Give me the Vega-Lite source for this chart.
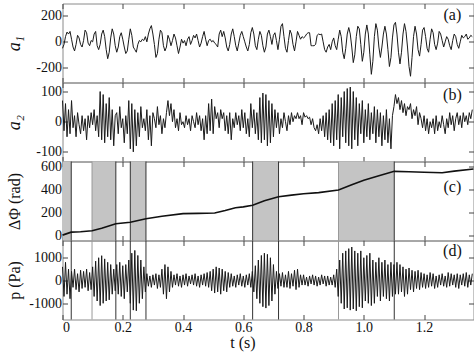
{
"$schema": "https://vega.github.io/schema/vega-lite/v6.json",
"padding": {"left": 4.5, "top": 2.5, "right": 2, "bottom": 0},
"spacing": 0,
"bounds": "flush",
"background": "white",
"config": {
 "view": {"stroke": "#8a8a8a", "strokeWidth": 1},
 "font": "'Liberation Serif', 'Times New Roman', serif",
 "axis": {"domain": false, "grid": false, "labelFont": "'Liberation Serif', 'Times New Roman', serif", "labelFontSize": 14, "labelColor": "#111", "titleFont": "'Liberation Serif', 'Times New Roman', serif", "titleFontSize": 16, "titleFontWeight": "normal", "titleColor": "#111", "tickColor": "#444", "tickSize": -5, "labelPadding": 6},
 "text": {"font": "'Liberation Serif', 'Times New Roman', serif"}
},
"datasets": {
 "sig": [
{"t":0,"a":-50,"b":70,"p":600},
{"t":0.005,"a":-20,"b":-30,"p":-700},
{"t":0.01,"a":40,"b":60,"p":800},
{"t":0.015,"a":75,"b":-50,"p":-600},
{"t":0.02,"a":60,"b":40,"p":500},
{"t":0.025,"a":80,"b":-40,"p":-800},
{"t":0.03,"a":20,"b":70,"p":400},
{"t":0.035,"a":-40,"b":-20,"p":-300},
{"t":0.04,"a":-70,"b":20,"p":500},
{"t":0.045,"a":-20,"b":-50,"p":-400},
{"t":0.05,"a":50,"b":30,"p":300},
{"t":0.055,"a":30,"b":-10,"p":-500},
{"t":0.06,"a":-20,"b":-40,"p":450},
{"t":0.065,"a":-40,"b":20,"p":-350},
{"t":0.07,"a":10,"b":-30,"p":400},
{"t":0.075,"a":90,"b":10,"p":-300},
{"t":0.08,"a":70,"b":-60,"p":500},
{"t":0.085,"a":-10,"b":20,"p":-450},
{"t":0.09,"a":-30,"b":-20,"p":350},
{"t":0.095,"a":10,"b":30,"p":-400},
{"t":0.1,"a":0,"b":-10,"p":600},
{"t":0.105,"a":60,"b":40,"p":-700},
{"t":0.11,"a":80,"b":-30,"p":850},
{"t":0.115,"a":-30,"b":20,"p":-900},
{"t":0.12,"a":-60,"b":-50,"p":1000},
{"t":0.125,"a":-20,"b":100,"p":-1100},
{"t":0.13,"a":60,"b":-60,"p":1090},
{"t":0.135,"a":90,"b":90,"p":-1000},
{"t":0.14,"a":40,"b":-70,"p":950},
{"t":0.145,"a":-60,"b":60,"p":-900},
{"t":0.15,"a":-130,"b":-50,"p":800},
{"t":0.155,"a":-80,"b":80,"p":-850},
{"t":0.16,"a":30,"b":-60,"p":700},
{"t":0.165,"a":100,"b":40,"p":-600},
{"t":0.17,"a":60,"b":-80,"p":500},
{"t":0.175,"a":-30,"b":20,"p":-450},
{"t":0.18,"a":-80,"b":30,"p":700},
{"t":0.185,"a":-40,"b":-40,"p":-600},
{"t":0.19,"a":40,"b":50,"p":800},
{"t":0.195,"a":70,"b":-20,"p":-700},
{"t":0.2,"a":20,"b":10,"p":650},
{"t":0.205,"a":-40,"b":-70,"p":-800},
{"t":0.21,"a":-90,"b":20,"p":700},
{"t":0.215,"a":-70,"b":-40,"p":-500},
{"t":0.22,"a":20,"b":70,"p":900},
{"t":0.225,"a":100,"b":-90,"p":-1000},
{"t":0.23,"a":50,"b":60,"p":1200},
{"t":0.235,"a":-40,"b":-100,"p":-1300},
{"t":0.24,"a":-60,"b":40,"p":1320},
{"t":0.245,"a":-80,"b":-80,"p":-1330},
{"t":0.25,"a":-20,"b":30,"p":1100},
{"t":0.255,"a":10,"b":-50,"p":-1000},
{"t":0.26,"a":0,"b":50,"p":900},
{"t":0.265,"a":20,"b":-20,"p":-800},
{"t":0.27,"a":10,"b":10,"p":600},
{"t":0.275,"a":40,"b":-30,"p":-500},
{"t":0.28,"a":0,"b":40,"p":300},
{"t":0.285,"a":60,"b":-60,"p":-250},
{"t":0.29,"a":100,"b":20,"p":200},
{"t":0.295,"a":125,"b":-80,"p":-300},
{"t":0.3,"a":60,"b":30,"p":250},
{"t":0.305,"a":-20,"b":10,"p":-200},
{"t":0.31,"a":-120,"b":-20,"p":300},
{"t":0.315,"a":-90,"b":50,"p":-350},
{"t":0.32,"a":20,"b":-10,"p":250},
{"t":0.325,"a":90,"b":20,"p":-300},
{"t":0.33,"a":70,"b":-40,"p":500},
{"t":0.335,"a":-30,"b":10,"p":-600},
{"t":0.34,"a":-70,"b":-20,"p":700},
{"t":0.345,"a":-40,"b":30,"p":-800},
{"t":0.35,"a":50,"b":70,"p":600},
{"t":0.355,"a":20,"b":20,"p":-500},
{"t":0.36,"a":-30,"b":60,"p":400},
{"t":0.365,"a":10,"b":0,"p":-300},
{"t":0.37,"a":60,"b":40,"p":250},
{"t":0.375,"a":30,"b":-20,"p":-200},
{"t":0.38,"a":-30,"b":10,"p":300},
{"t":0.385,"a":-90,"b":-30,"p":-250},
{"t":0.39,"a":-40,"b":30,"p":200},
{"t":0.395,"a":20,"b":-10,"p":-300},
{"t":0.4,"a":-10,"b":0,"p":250},
{"t":0.405,"a":10,"b":-20,"p":-200},
{"t":0.41,"a":-30,"b":20,"p":300},
{"t":0.415,"a":20,"b":-10,"p":-250},
{"t":0.42,"a":40,"b":10,"p":200},
{"t":0.425,"a":-20,"b":-30,"p":-150},
{"t":0.43,"a":10,"b":20,"p":250},
{"t":0.435,"a":50,"b":0,"p":-200},
{"t":0.44,"a":30,"b":-20,"p":300},
{"t":0.445,"a":60,"b":30,"p":-250},
{"t":0.45,"a":10,"b":-10,"p":200},
{"t":0.455,"a":-40,"b":20,"p":-300},
{"t":0.46,"a":-10,"b":-30,"p":250},
{"t":0.465,"a":40,"b":10,"p":-200},
{"t":0.47,"a":80,"b":-60,"p":300},
{"t":0.475,"a":20,"b":20,"p":-250},
{"t":0.48,"a":-30,"b":-40,"p":350},
{"t":0.485,"a":10,"b":60,"p":-300},
{"t":0.49,"a":20,"b":-30,"p":400},
{"t":0.495,"a":0,"b":75,"p":-450},
{"t":0.5,"a":10,"b":-40,"p":500},
{"t":0.505,"a":-10,"b":50,"p":-550},
{"t":0.51,"a":-20,"b":10,"p":600},
{"t":0.515,"a":-40,"b":30,"p":-500},
{"t":0.52,"a":60,"b":-20,"p":550},
{"t":0.525,"a":90,"b":40,"p":-600},
{"t":0.53,"a":40,"b":10,"p":500},
{"t":0.535,"a":80,"b":30,"p":-450},
{"t":0.54,"a":30,"b":-30,"p":400},
{"t":0.545,"a":-40,"b":20,"p":-500},
{"t":0.55,"a":-70,"b":-40,"p":350},
{"t":0.555,"a":-20,"b":30,"p":-300},
{"t":0.56,"a":60,"b":-60,"p":300},
{"t":0.565,"a":100,"b":10,"p":-250},
{"t":0.57,"a":40,"b":-20,"p":200},
{"t":0.575,"a":-30,"b":30,"p":-300},
{"t":0.58,"a":-70,"b":-10,"p":250},
{"t":0.585,"a":-10,"b":20,"p":-200},
{"t":0.59,"a":50,"b":-30,"p":300},
{"t":0.595,"a":80,"b":40,"p":-250},
{"t":0.6,"a":40,"b":-20,"p":200},
{"t":0.605,"a":0,"b":30,"p":-300},
{"t":0.61,"a":-40,"b":-40,"p":250},
{"t":0.615,"a":-70,"b":10,"p":-200},
{"t":0.62,"a":-20,"b":-50,"p":300},
{"t":0.625,"a":70,"b":60,"p":-300},
{"t":0.63,"a":110,"b":-20,"p":400},
{"t":0.635,"a":60,"b":40,"p":-500},
{"t":0.64,"a":-30,"b":-40,"p":650},
{"t":0.645,"a":-60,"b":30,"p":-800},
{"t":0.65,"a":20,"b":-60,"p":900},
{"t":0.655,"a":80,"b":80,"p":-1000},
{"t":0.66,"a":50,"b":-70,"p":1100},
{"t":0.665,"a":-30,"b":95,"p":-1150},
{"t":0.67,"a":-80,"b":-60,"p":1200},
{"t":0.675,"a":-40,"b":90,"p":-1210},
{"t":0.68,"a":60,"b":-80,"p":1150},
{"t":0.685,"a":90,"b":70,"p":-1100},
{"t":0.69,"a":40,"b":-70,"p":1000},
{"t":0.695,"a":-20,"b":60,"p":-900},
{"t":0.7,"a":50,"b":-50,"p":700},
{"t":0.705,"a":70,"b":40,"p":-600},
{"t":0.71,"a":10,"b":-20,"p":400},
{"t":0.715,"a":-60,"b":30,"p":-350},
{"t":0.72,"a":20,"b":-40,"p":300},
{"t":0.725,"a":120,"b":10,"p":-250},
{"t":0.73,"a":140,"b":-20,"p":350},
{"t":0.735,"a":40,"b":30,"p":-300},
{"t":0.74,"a":-50,"b":0,"p":250},
{"t":0.745,"a":-80,"b":-30,"p":-300},
{"t":0.75,"a":10,"b":20,"p":400},
{"t":0.755,"a":90,"b":-10,"p":-350},
{"t":0.76,"a":60,"b":30,"p":300},
{"t":0.765,"a":-20,"b":0,"p":-250},
{"t":0.77,"a":-70,"b":20,"p":450},
{"t":0.775,"a":0,"b":10,"p":-400},
{"t":0.78,"a":80,"b":30,"p":500},
{"t":0.785,"a":50,"b":10,"p":-300},
{"t":0.79,"a":20,"b":20,"p":250},
{"t":0.795,"a":40,"b":-10,"p":-200},
{"t":0.8,"a":30,"b":30,"p":250},
{"t":0.805,"a":40,"b":15,"p":-200},
{"t":0.81,"a":60,"b":20,"p":150},
{"t":0.815,"a":70,"b":10,"p":-250},
{"t":0.82,"a":70,"b":15,"p":200},
{"t":0.825,"a":-30,"b":-10,"p":-150},
{"t":0.83,"a":-30,"b":10,"p":250},
{"t":0.835,"a":-30,"b":-20,"p":-200},
{"t":0.84,"a":-20,"b":-30,"p":200},
{"t":0.845,"a":50,"b":-10,"p":-250},
{"t":0.85,"a":60,"b":-40,"p":150},
{"t":0.855,"a":55,"b":10,"p":-200},
{"t":0.86,"a":60,"b":-30,"p":250},
{"t":0.865,"a":0,"b":20,"p":-150},
{"t":0.87,"a":-60,"b":-50,"p":200},
{"t":0.875,"a":-80,"b":30,"p":-250},
{"t":0.88,"a":-40,"b":-60,"p":200},
{"t":0.885,"a":-20,"b":40,"p":-200},
{"t":0.89,"a":-60,"b":-70,"p":150},
{"t":0.895,"a":0,"b":60,"p":-200},
{"t":0.9,"a":30,"b":-80,"p":250},
{"t":0.905,"a":-30,"b":70,"p":-300},
{"t":0.91,"a":-60,"b":-60,"p":500},
{"t":0.915,"a":20,"b":90,"p":-700},
{"t":0.92,"a":90,"b":-90,"p":900},
{"t":0.925,"a":40,"b":80,"p":-1000},
{"t":0.93,"a":-80,"b":-50,"p":1200},
{"t":0.935,"a":-130,"b":100,"p":-1250},
{"t":0.94,"a":-50,"b":-70,"p":1300},
{"t":0.945,"a":60,"b":110,"p":-1200},
{"t":0.95,"a":110,"b":-80,"p":1400},
{"t":0.955,"a":60,"b":115,"p":-1300},
{"t":0.96,"a":-40,"b":-90,"p":1470},
{"t":0.965,"a":-160,"b":100,"p":-1250},
{"t":0.97,"a":-100,"b":-60,"p":1300},
{"t":0.975,"a":40,"b":80,"p":-1330},
{"t":0.98,"a":120,"b":-80,"p":1200},
{"t":0.985,"a":100,"b":60,"p":-1150},
{"t":0.99,"a":-20,"b":-40,"p":1300},
{"t":0.995,"a":-150,"b":70,"p":-1200},
{"t":1,"a":-80,"b":-70,"p":1000},
{"t":1.005,"a":60,"b":40,"p":-900},
{"t":1.01,"a":130,"b":-50,"p":1100},
{"t":1.015,"a":60,"b":60,"p":-1000},
{"t":1.02,"a":-100,"b":-60,"p":1200},
{"t":1.025,"a":-250,"b":30,"p":-1100},
{"t":1.03,"a":-150,"b":-40,"p":900},
{"t":1.035,"a":40,"b":50,"p":-1000},
{"t":1.04,"a":140,"b":-70,"p":800},
{"t":1.045,"a":90,"b":40,"p":-700},
{"t":1.05,"a":-40,"b":-50,"p":1000},
{"t":1.055,"a":-120,"b":30,"p":-900},
{"t":1.06,"a":-40,"b":-80,"p":800},
{"t":1.065,"a":60,"b":20,"p":-700},
{"t":1.07,"a":120,"b":-60,"p":900},
{"t":1.075,"a":60,"b":40,"p":-800},
{"t":1.08,"a":-60,"b":-70,"p":700},
{"t":1.085,"a":-190,"b":10,"p":-900},
{"t":1.09,"a":-120,"b":-90,"p":800},
{"t":1.095,"a":30,"b":20,"p":-700},
{"t":1.1,"a":130,"b":50,"p":700},
{"t":1.105,"a":150,"b":90,"p":-600},
{"t":1.11,"a":60,"b":60,"p":800},
{"t":1.115,"a":-80,"b":80,"p":-600},
{"t":1.12,"a":-170,"b":40,"p":700},
{"t":1.125,"a":-80,"b":70,"p":-500},
{"t":1.13,"a":60,"b":30,"p":600},
{"t":1.135,"a":140,"b":60,"p":-700},
{"t":1.14,"a":80,"b":20,"p":500},
{"t":1.145,"a":-40,"b":50,"p":-600},
{"t":1.15,"a":-190,"b":40,"p":550},
{"t":1.155,"a":-265,"b":60,"p":-400},
{"t":1.16,"a":-120,"b":10,"p":450},
{"t":1.165,"a":40,"b":40,"p":-500},
{"t":1.17,"a":120,"b":20,"p":400},
{"t":1.175,"a":60,"b":50,"p":-350},
{"t":1.18,"a":-60,"b":-10,"p":450},
{"t":1.185,"a":-110,"b":30,"p":-400},
{"t":1.19,"a":-20,"b":10,"p":350},
{"t":1.195,"a":90,"b":-20,"p":-300},
{"t":1.2,"a":110,"b":20,"p":300},
{"t":1.205,"a":40,"b":-30,"p":-350},
{"t":1.21,"a":-50,"b":10,"p":250},
{"t":1.215,"a":-80,"b":-40,"p":-300},
{"t":1.22,"a":20,"b":0,"p":350},
{"t":1.225,"a":100,"b":-20,"p":-250},
{"t":1.23,"a":70,"b":10,"p":300},
{"t":1.235,"a":-20,"b":-40,"p":-350},
{"t":1.24,"a":-60,"b":20,"p":200},
{"t":1.245,"a":-10,"b":-30,"p":-300},
{"t":1.25,"a":80,"b":0,"p":250},
{"t":1.255,"a":60,"b":-20,"p":-200},
{"t":1.26,"a":10,"b":20,"p":300},
{"t":1.265,"a":-40,"b":-10,"p":-250},
{"t":1.27,"a":0,"b":-40,"p":200},
{"t":1.275,"a":40,"b":10,"p":-300},
{"t":1.28,"a":20,"b":-20,"p":350},
{"t":1.285,"a":-30,"b":30,"p":-250},
{"t":1.29,"a":-60,"b":-10,"p":300},
{"t":1.295,"a":10,"b":20,"p":-200},
{"t":1.3,"a":60,"b":-30,"p":250},
{"t":1.305,"a":40,"b":10,"p":-300},
{"t":1.31,"a":-20,"b":30,"p":300},
{"t":1.315,"a":-50,"b":-10,"p":-350},
{"t":1.32,"a":0,"b":20,"p":250},
{"t":1.325,"a":50,"b":-20,"p":-200},
{"t":1.33,"a":30,"b":30,"p":300},
{"t":1.335,"a":40,"b":0,"p":-250},
{"t":1.34,"a":60,"b":20,"p":350},
{"t":1.345,"a":20,"b":-10,"p":-300},
{"t":1.35,"a":30,"b":30,"p":250},
{"t":1.355,"a":50,"b":10,"p":-200},
{"t":1.36,"a":40,"b":40,"p":300}
 ],
 "phi": [
{"t":0,"phi":0},{"t":0.029,"phi":26},{"t":0.06,"phi":30},{"t":0.098,"phi":38},{"t":0.13,"phi":60},{"t":0.177,"phi":100},{"t":0.225,"phi":112},{"t":0.277,"phi":144},{"t":0.33,"phi":165},{"t":0.4,"phi":188},{"t":0.45,"phi":190},{"t":0.505,"phi":194},{"t":0.54,"phi":215},{"t":0.574,"phi":240},{"t":0.6,"phi":247},{"t":0.631,"phi":262},{"t":0.67,"phi":300},{"t":0.717,"phi":335},{"t":0.76,"phi":350},{"t":0.8,"phi":362},{"t":0.85,"phi":372},{"t":0.916,"phi":394},{"t":0.96,"phi":440},{"t":1.0,"phi":480},{"t":1.05,"phi":520},{"t":1.101,"phi":558},{"t":1.15,"phi":555},{"t":1.2,"phi":550},{"t":1.26,"phi":546},{"t":1.3,"phi":560},{"t":1.364,"phi":579}
 ],
 "bands": [
{"t0":0,"t1":0.029},{"t0":0.098,"t1":0.177},{"t0":0.225,"t1":0.277},{"t0":0.631,"t1":0.717},{"t0":0.916,"t1":1.101}
 ],
 "vdark": [{"t":0.029},{"t":0.177},{"t":0.225},{"t":0.277},{"t":0.631},{"t":0.717},{"t":1.101}],
 "vlight": [{"t":0.098},{"t":0.916}]
},
"vconcat": [
 {
  "width": 411, "height": 79,
  "layer": [
   {"data": {"name": "sig"}, "mark": {"type": "line", "color": "#1a1a1a", "strokeWidth": 1},
    "encoding": {
     "x": {"field": "t", "type": "quantitative", "scale": {"domain": [0, 1.364], "nice": false, "zero": false}, "axis": {"orient": "bottom", "labels": false, "title": null, "values": [0, 0.2, 0.4, 0.6, 0.8, 1, 1.2]}},
     "y": {"field": "a", "type": "quantitative", "scale": {"domain": [-313, 295], "nice": false, "zero": false}, "axis": {"orient": "left", "title": "a₁", "titleFontStyle": "italic", "titleFontSize": 18, "titleX": -48, "titleBaseline": "middle", "values": [-200, 0, 200], "labelExpr": "'' + datum.value"}}
    }},
   {"data": {"values": [{"t": 0, "a": 0}]}, "mark": {"type": "point", "opacity": 0},
    "encoding": {
     "x": {"field": "t", "type": "quantitative", "axis": {"orient": "top", "labels": false, "title": null, "values": [0, 0.2, 0.4, 0.6, 0.8, 1, 1.2]}},
     "y": {"field": "a", "type": "quantitative", "axis": {"orient": "right", "labels": false, "title": null, "values": [-200, 0, 200]}}
    }},
   {"data": {"values": [{"t": 1.294, "a": 208, "lab": "(a)"}]}, "mark": {"type": "text", "fontSize": 16, "color": "#111"},
    "encoding": {"x": {"field": "t", "type": "quantitative", "axis": null}, "y": {"field": "a", "type": "quantitative", "axis": null}, "text": {"field": "lab"}}}
  ],
  "resolve": {"axis": {"x": "independent", "y": "independent"}}
 },
 {
  "width": 411, "height": 79,
  "layer": [
   {"data": {"name": "sig"}, "mark": {"type": "line", "color": "#1a1a1a", "strokeWidth": 1},
    "encoding": {
     "x": {"field": "t", "type": "quantitative", "scale": {"domain": [0, 1.364], "nice": false, "zero": false}, "axis": {"orient": "bottom", "labels": false, "title": null, "values": [0, 0.2, 0.4, 0.6, 0.8, 1, 1.2]}},
     "y": {"field": "b", "type": "quantitative", "scale": {"domain": [-132, 130], "nice": false, "zero": false}, "axis": {"orient": "left", "title": "a₂", "titleFontStyle": "italic", "titleFontSize": 18, "titleX": -48, "titleBaseline": "middle", "values": [-100, 0, 100], "labelExpr": "'' + datum.value"}}
    }},
   {"data": {"values": [{"t": 0, "b": 0}]}, "mark": {"type": "point", "opacity": 0},
    "encoding": {
     "x": {"field": "t", "type": "quantitative", "axis": {"orient": "top", "labels": false, "title": null, "values": [0, 0.2, 0.4, 0.6, 0.8, 1, 1.2]}},
     "y": {"field": "b", "type": "quantitative", "axis": {"orient": "right", "labels": false, "title": null, "values": [-100, 0, 100]}}
    }},
   {"data": {"values": [{"t": 1.294, "b": 89, "lab": "(b)"}]}, "mark": {"type": "text", "fontSize": 16, "color": "#111"},
    "encoding": {"x": {"field": "t", "type": "quantitative", "axis": null}, "y": {"field": "b", "type": "quantitative", "axis": null}, "text": {"field": "lab"}}}
  ],
  "resolve": {"axis": {"x": "independent", "y": "independent"}}
 },
 {
  "width": 411, "height": 79,
  "layer": [
   {"data": {"name": "bands"}, "mark": {"type": "rect", "color": "#c4c4c4"},
    "encoding": {
     "x": {"field": "t0", "type": "quantitative", "scale": {"domain": [0, 1.364], "nice": false, "zero": false}, "axis": {"orient": "bottom", "labels": false, "title": null, "values": [0, 0.2, 0.4, 0.6, 0.8, 1, 1.2]}},
     "x2": {"field": "t1"}
    }},
   {"data": {"name": "vlight"}, "mark": {"type": "rule", "color": "#999", "strokeWidth": 1},
    "encoding": {"x": {"field": "t", "type": "quantitative", "axis": null}}},
   {"data": {"name": "vdark"}, "mark": {"type": "rule", "color": "#333", "strokeWidth": 1},
    "encoding": {"x": {"field": "t", "type": "quantitative", "axis": null}}},
   {"data": {"name": "phi"}, "mark": {"type": "line", "color": "#111", "strokeWidth": 1.6},
    "encoding": {
     "x": {"field": "t", "type": "quantitative", "axis": null},
     "y": {"field": "phi", "type": "quantitative", "scale": {"domain": [-47, 644], "nice": false, "zero": false}, "axis": {"orient": "left", "title": "ΔΦ (rad)", "titleFontSize": 16, "titleX": -48, "titleBaseline": "middle", "values": [0, 200, 400, 600], "labelExpr": "'' + datum.value"}}
    }},
   {"data": {"values": [{"t": 0, "phi": 0}]}, "mark": {"type": "point", "opacity": 0},
    "encoding": {
     "x": {"field": "t", "type": "quantitative", "axis": {"orient": "top", "labels": false, "title": null, "values": [0, 0.2, 0.4, 0.6, 0.8, 1, 1.2]}},
     "y": {"field": "phi", "type": "quantitative", "axis": {"orient": "right", "labels": false, "title": null, "values": [0, 200, 400, 600]}}
    }},
   {"data": {"values": [{"t": 1.294, "phi": 417, "lab": "(c)"}]}, "mark": {"type": "text", "fontSize": 16, "color": "#111"},
    "encoding": {"x": {"field": "t", "type": "quantitative", "axis": null}, "y": {"field": "phi", "type": "quantitative", "axis": null}, "text": {"field": "lab"}}}
  ],
  "resolve": {"axis": {"x": "independent", "y": "independent"}}
 },
 {
  "width": 411, "height": 79,
  "layer": [
   {"data": {"name": "vlight"}, "mark": {"type": "rule", "color": "#999", "strokeWidth": 1},
    "encoding": {"x": {"field": "t", "type": "quantitative", "scale": {"domain": [0, 1.364], "nice": false, "zero": false}, "axis": {"orient": "bottom", "title": "t (s)", "titleFontSize": 16, "titlePadding": 0, "titleX": 180, "titleAlign": "center", "values": [0, 0.2, 0.4, 0.6, 0.8, 1, 1.2], "labelExpr": "datum.value == 0 ? '0' : format(datum.value, '.1f')"}}}},
   {"data": {"name": "vdark"}, "mark": {"type": "rule", "color": "#333", "strokeWidth": 1},
    "encoding": {"x": {"field": "t", "type": "quantitative", "axis": null}}},
   {"data": {"name": "sig"}, "mark": {"type": "line", "color": "#1a1a1a", "strokeWidth": 1},
    "encoding": {
     "x": {"field": "t", "type": "quantitative", "axis": null},
     "y": {"field": "p", "type": "quantitative", "scale": {"domain": [-1712, 1757], "nice": false, "zero": false}, "axis": {"orient": "left", "title": "p (Pa)", "titleFontSize": 16, "titleX": -48, "titleBaseline": "middle", "values": [-1000, 0, 1000], "labelExpr": "'' + datum.value"}}
    }},
   {"data": {"values": [{"t": 0, "p": 0}]}, "mark": {"type": "point", "opacity": 0},
    "encoding": {
     "x": {"field": "t", "type": "quantitative", "axis": {"orient": "top", "labels": false, "title": null, "values": [0, 0.2, 0.4, 0.6, 0.8, 1, 1.2]}},
     "y": {"field": "p", "type": "quantitative", "axis": {"orient": "right", "labels": false, "title": null, "values": [-1000, 0, 1000]}}
    }},
   {"data": {"values": [{"t": 1.294, "p": 1283, "lab": "(d)"}]}, "mark": {"type": "text", "fontSize": 16, "color": "#111"},
    "encoding": {"x": {"field": "t", "type": "quantitative", "axis": null}, "y": {"field": "p", "type": "quantitative", "axis": null}, "text": {"field": "lab"}}}
  ],
  "resolve": {"axis": {"x": "independent", "y": "independent"}}
 }
]
}
